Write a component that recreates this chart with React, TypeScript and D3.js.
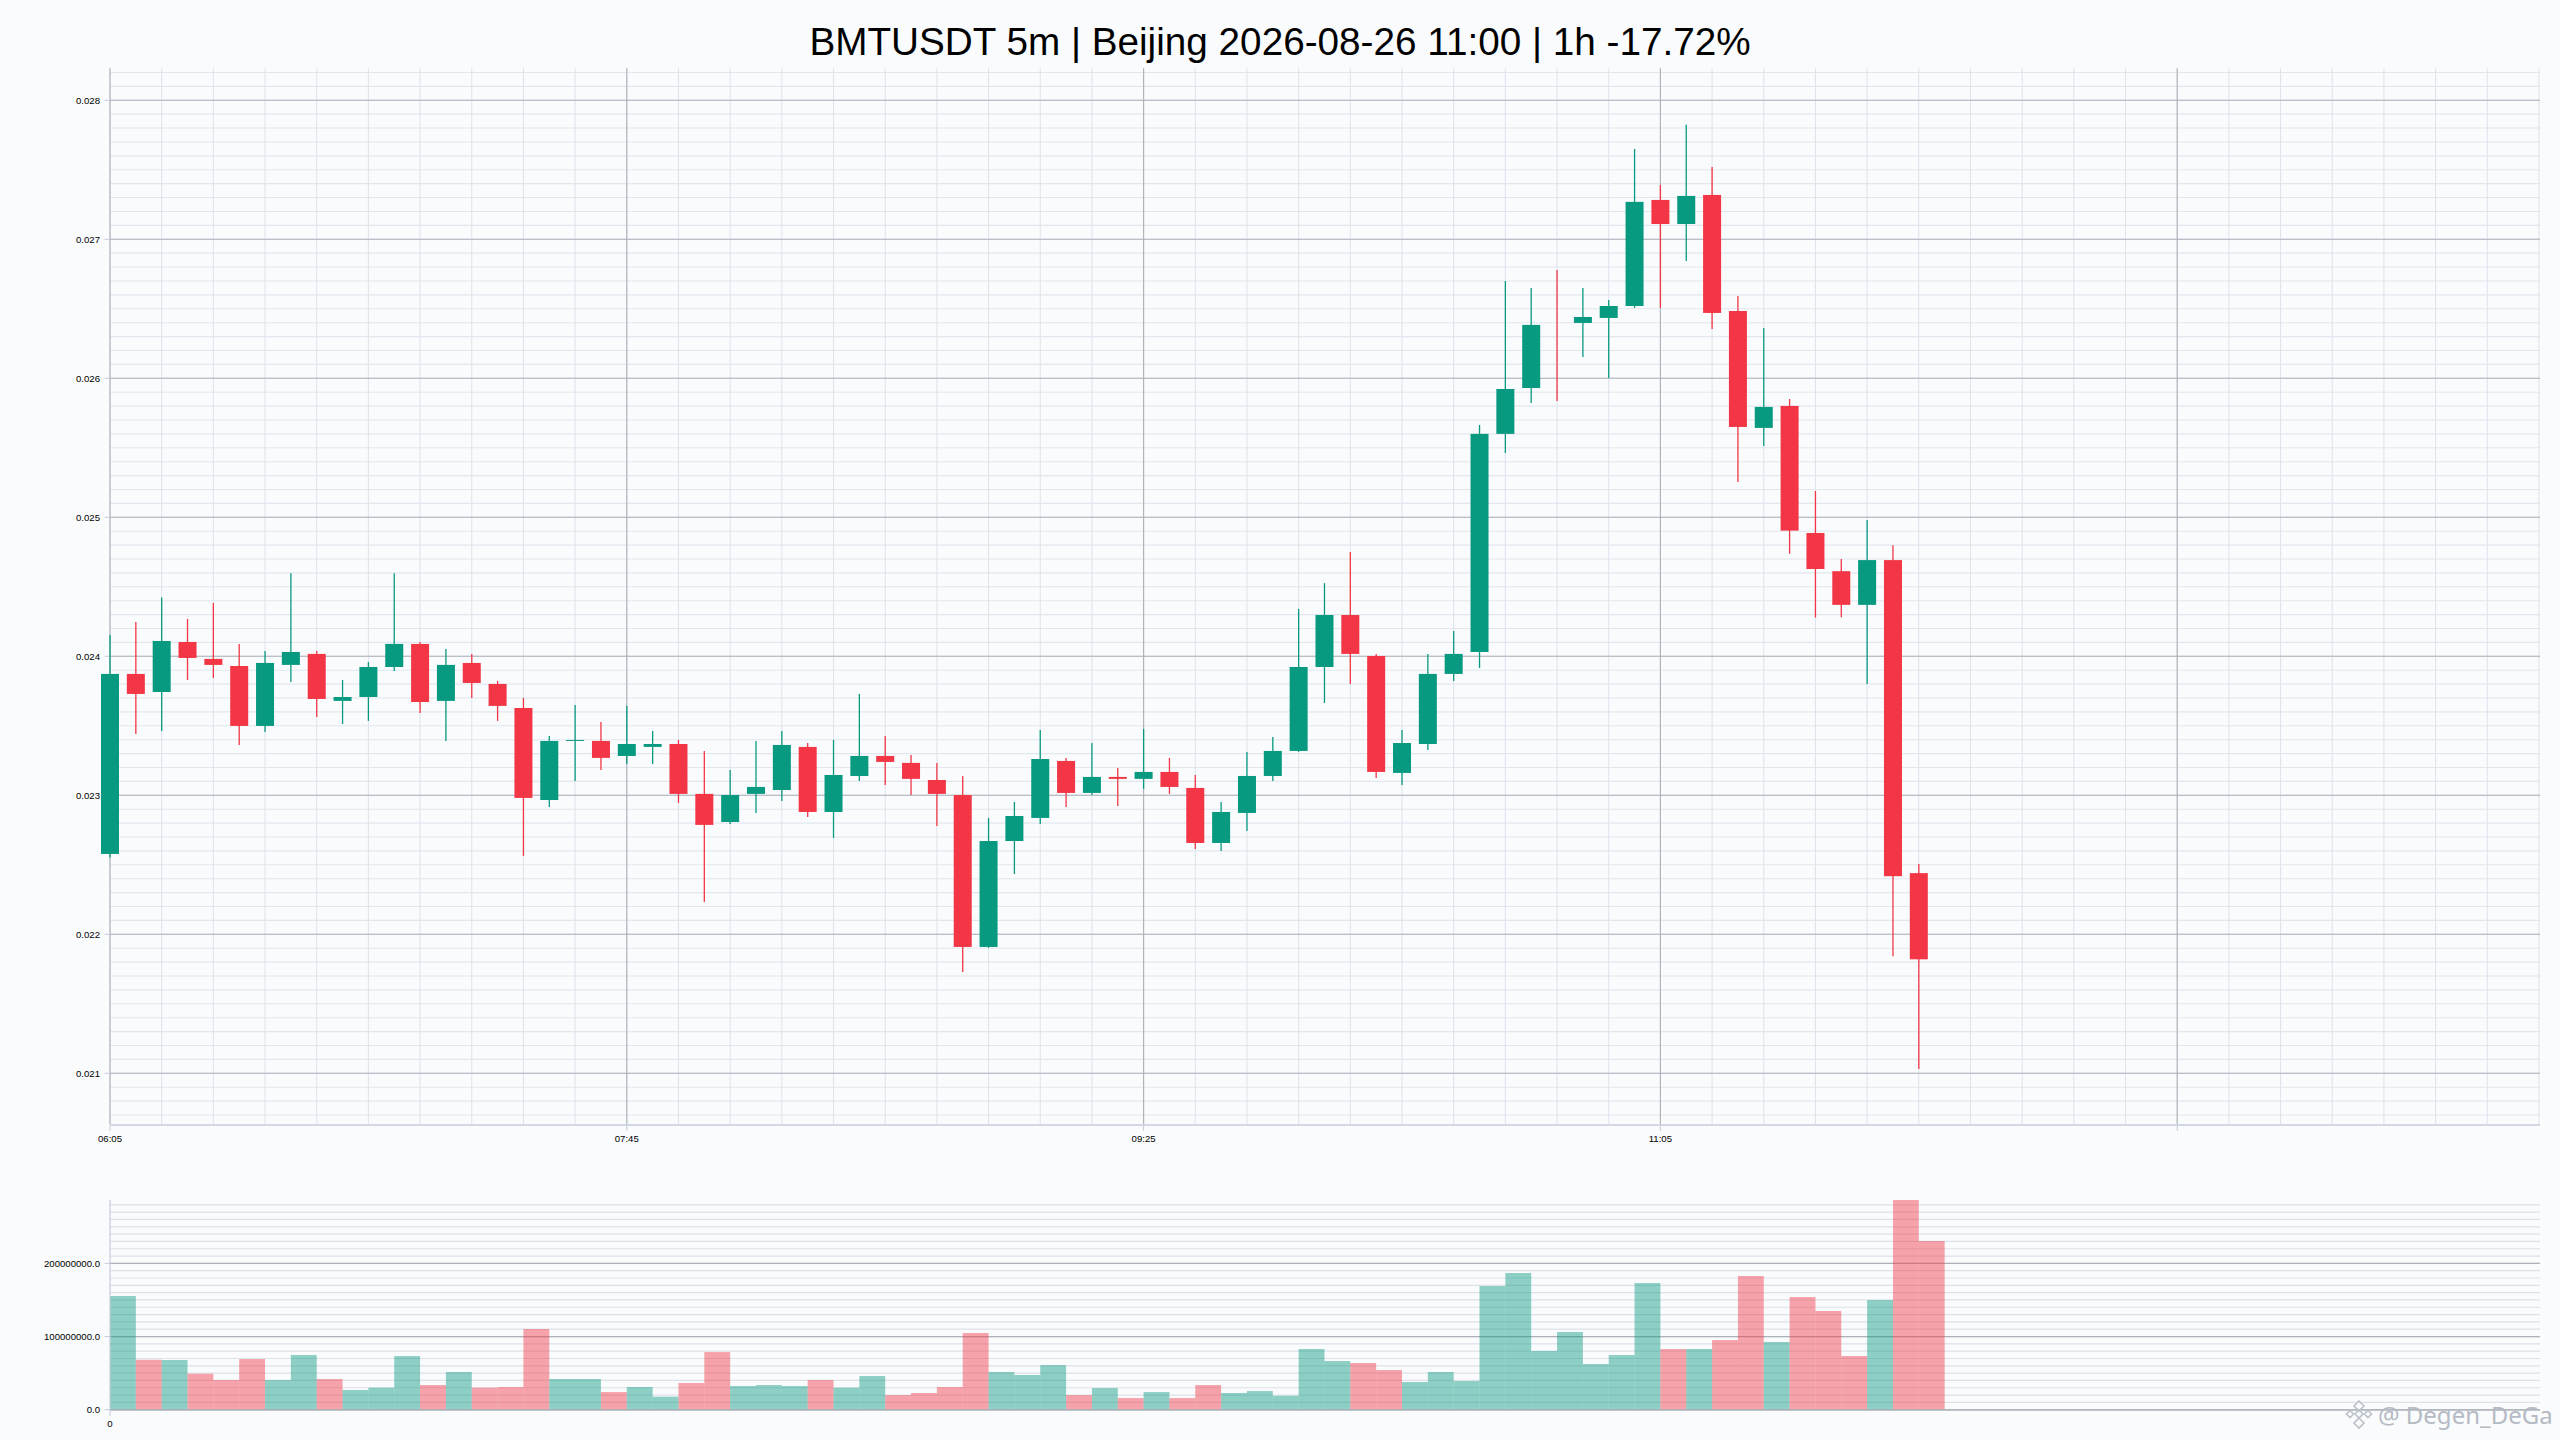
import React, { useEffect, useRef } from "react";
import * as d3 from "d3";

const titleText = "BMTUSDT 5m | Beijing 2026-08-26 11:00 | 1h -17.72%";
const watermarkText = "@ Degen_DeGa";

const opens = [
  0.022578, 0.023873, 0.023743, 0.024103, 0.023981, 0.02393, 0.023499, 0.023938, 0.024017, 0.023679, 0.023707, 0.023923,
  0.024089, 0.023679, 0.023952, 0.023801, 0.023628, 0.022966, 0.023391, 0.023391, 0.023283, 0.023348, 0.023369, 0.02301,
  0.022808, 0.02301, 0.023038, 0.023348, 0.02288, 0.023139, 0.023283, 0.023233, 0.02311, 0.023002, 0.021909, 0.022671,
  0.022837, 0.023247, 0.023017, 0.023132, 0.023118, 0.023168, 0.023053, 0.022657, 0.022873, 0.023139, 0.023319, 0.023923,
  0.024297, 0.024002, 0.023161, 0.023369, 0.023873, 0.024031, 0.0256, 0.02593, 0.0264, 0.026398, 0.026434, 0.02652,
  0.027283, 0.02711, 0.027319, 0.026484, 0.025643, 0.025801, 0.024887, 0.024612, 0.02437, 0.024692, 0.02244,
];
const highs = [
  0.024153, 0.024247, 0.024422, 0.024269, 0.024384, 0.024089, 0.024038, 0.024598, 0.024038, 0.02383, 0.023959, 0.024598,
  0.024103, 0.024053, 0.024017, 0.023823, 0.0237, 0.023427, 0.02365, 0.023528, 0.023643, 0.023463, 0.023398, 0.023319,
  0.023182, 0.023391, 0.023463, 0.023376, 0.023398, 0.023729, 0.023427, 0.02329, 0.023233, 0.023139, 0.022837, 0.022952,
  0.02347, 0.023269, 0.023376, 0.023197, 0.023477, 0.023269, 0.023146, 0.022952, 0.023312, 0.02342, 0.024341, 0.024526,
  0.02475, 0.024017, 0.02347, 0.024017, 0.024182, 0.025664, 0.0267, 0.02665, 0.026779, 0.02665, 0.026564, 0.02765,
  0.027391, 0.027823, 0.02752, 0.026592, 0.026362, 0.025851, 0.025189, 0.0247, 0.024981, 0.024799, 0.022506,
];
const lows = [
  0.022552, 0.023441, 0.023463, 0.02383, 0.023844, 0.023362, 0.023456, 0.023815, 0.023564, 0.023513, 0.023535, 0.023894,
  0.023592, 0.023391, 0.0237, 0.023535, 0.022564, 0.022916, 0.023103, 0.023182, 0.023225, 0.023225, 0.022945, 0.022233,
  0.022794, 0.022873, 0.022959, 0.022844, 0.022693, 0.023103, 0.023074, 0.023002, 0.022779, 0.021729, 0.021902, 0.022434,
  0.022794, 0.022916, 0.023002, 0.022923, 0.023046, 0.02301, 0.022614, 0.0226, 0.022743, 0.023103, 0.023312, 0.023664,
  0.023801, 0.023125, 0.023074, 0.023326, 0.023823, 0.023916, 0.025463, 0.025822, 0.025837, 0.026153, 0.026002, 0.026506,
  0.026506, 0.026844, 0.026355, 0.025254, 0.025513, 0.024738, 0.024279, 0.024281, 0.0238, 0.021842, 0.02103,
];
const closes = [
  0.023873, 0.023729, 0.02411, 0.023988, 0.023938, 0.023499, 0.023952, 0.024031, 0.023693, 0.023707, 0.023923, 0.024089,
  0.023671, 0.023938, 0.023808, 0.023643, 0.022981, 0.023391, 0.023398, 0.023269, 0.023369, 0.023369, 0.02301, 0.022787,
  0.023002, 0.02306, 0.023362, 0.02288, 0.023146, 0.023283, 0.02324, 0.023118, 0.02301, 0.021909, 0.022671, 0.022851,
  0.023261, 0.023017, 0.023132, 0.023118, 0.023168, 0.02306, 0.022657, 0.02288, 0.023139, 0.023319, 0.023923, 0.024297,
  0.024017, 0.023168, 0.023376, 0.023873, 0.024017, 0.0256, 0.025923, 0.026384, 0.0264, 0.026441, 0.02652, 0.027269,
  0.02711, 0.027312, 0.02647, 0.02565, 0.025794, 0.024904, 0.024628, 0.02437, 0.024692, 0.022418, 0.02182,
];
const volumes = [
  155400000, 68300000, 67900000, 49200000, 40500000, 69200000, 40500000, 74700000, 41900000, 26900000, 30100000, 73300000,
  33700000, 51500000, 30100000, 31000000, 110300000, 41900000, 41900000, 24100000, 31000000, 17800000, 36400000, 78800000,
  32300000, 33700000, 32300000, 40500000, 30100000, 46000000, 20000000, 22800000, 31000000, 104800000, 51500000, 47400000,
  61000000, 20000000, 29600000, 15900000, 24100000, 15900000, 33700000, 22800000, 25500000, 19100000, 82900000, 66500000,
  63800000, 54200000, 37800000, 51500000, 39200000, 169000000, 186800000, 80200000, 106200000, 62400000, 74700000, 173100000,
  82900000, 82900000, 95200000, 182700000, 92500000, 154000000, 134900000, 73300000, 149900000, 286600000, 230500000,
];

const priceTicks = [0.021, 0.022, 0.023, 0.024, 0.025, 0.026, 0.027, 0.028];
const volumeTicks = [0, 100000000, 200000000];
const timeTicks = [0, 20, 40, 60, 80];
const timeLabels = ["06:05", "07:45", "09:25", "11:05", ""];

const UP = "#089981";
const DOWN = "#F23645";
const BG = "#F9FBFD";
const GRID_MAJOR = "#ADB1B8";
const GRID_MINOR_H = "#E2E7EF";
const GRID_MINOR_V = "#DCE3EB";
const AXIS = "#C5CDDA";
const TICK_FONT = "'Liberation Sans', Arial, sans-serif";

export default function App() {
  const svgRef = useRef<SVGSVGElement | null>(null);

  useEffect(() => {
    if (!svgRef.current) return;
    const svg = d3.select(svgRef.current);
    svg.selectAll("*").remove();

    const left = 110;
    const right = 2540;
    const x = d3.scaleLinear().domain([0, 94.04]).range([left, right]);
    const y = d3.scaleLinear().domain([0.020628, 0.02823]).range([1125, 68.3]);
    const yVol = d3.scaleLinear().domain([0, 286600000]).range([1409.7, 1200]);

    svg.append("rect").attr("width", 2560).attr("height", 1440).attr("fill", BG);

    svg.append("text")
      .attr("x", 1280)
      .attr("y", 55)
      .attr("text-anchor", "middle")
      .attr("font-family", TICK_FONT)
      .attr("font-size", 38.7)
      .attr("fill", "#000")
      .text(titleText);

    // price panel grid
    const grid = svg.append("g");
    y.ticks(76).forEach((t) => {
      grid.append("line")
        .attr("x1", left).attr("x2", right)
        .attr("y1", y(t)).attr("y2", y(t))
        .attr("stroke", GRID_MINOR_H).attr("stroke-width", 1.1);
    });
    d3.range(0, 95, 2).forEach((i) => {
      grid.append("line")
        .attr("x1", x(i)).attr("x2", x(i))
        .attr("y1", 68.3).attr("y2", 1124)
        .attr("stroke", GRID_MINOR_V).attr("stroke-width", 1);
    });
    priceTicks.forEach((t) => {
      grid.append("line")
        .attr("x1", left).attr("x2", right)
        .attr("y1", y(t)).attr("y2", y(t))
        .attr("stroke", GRID_MAJOR).attr("stroke-width", 1.1);
    });
    timeTicks.forEach((i) => {
      grid.append("line")
        .attr("x1", x(i)).attr("x2", x(i))
        .attr("y1", 68.3).attr("y2", 1124)
        .attr("stroke", GRID_MAJOR).attr("stroke-width", 1.1);
    });

    // price axis
    const priceAxis = svg.append("g");
    priceAxis.append("line")
      .attr("x1", left).attr("x2", right).attr("y1", 1125).attr("y2", 1125)
      .attr("stroke", AXIS).attr("stroke-width", 1.3);
    priceTicks.forEach((t) => {
      priceAxis.append("line")
        .attr("x1", left - 5.5).attr("x2", left).attr("y1", y(t)).attr("y2", y(t))
        .attr("stroke", AXIS).attr("stroke-width", 1);
      priceAxis.append("text")
        .attr("x", left - 10).attr("y", y(t)).attr("dy", "0.35em")
        .attr("text-anchor", "end")
        .attr("font-family", TICK_FONT).attr("font-size", 9.6).attr("fill", "#000")
        .text(d3.format(".3f")(t));
    });
    timeTicks.forEach((i, idx) => {
      priceAxis.append("line")
        .attr("x1", x(i)).attr("x2", x(i)).attr("y1", 1125).attr("y2", 1131)
        .attr("stroke", AXIS).attr("stroke-width", 1);
      priceAxis.append("text")
        .attr("x", x(i)).attr("y", 1139).attr("dy", "0.35em")
        .attr("text-anchor", "middle")
        .attr("font-family", TICK_FONT).attr("font-size", 9.6).attr("fill", "#000")
        .text(timeLabels[idx]);
    });

    // candles
    const candles = svg.append("g");
    opens.forEach((open, i) => {
      const close = closes[i];
      const color = close > open ? UP : DOWN;
      candles.append("line")
        .attr("x1", x(i)).attr("x2", x(i))
        .attr("y1", y(highs[i])).attr("y2", y(lows[i]))
        .attr("stroke", color).attr("stroke-width", 1.3);
      const top = y(Math.max(open, close));
      const bottom = y(Math.min(open, close));
      candles.append("rect")
        .attr("x", x(i) - 9).attr("width", 18)
        .attr("y", top).attr("height", bottom - top)
        .attr("fill", color);
    });

    // volume panel grid
    const volGrid = svg.append("g");
    d3.range(0, 29).forEach((k) => {
      const v = k * 10000000;
      volGrid.append("line")
        .attr("x1", left).attr("x2", right)
        .attr("y1", yVol(v)).attr("y2", yVol(v))
        .attr("stroke", "#DEE1E7").attr("stroke-width", 1.2);
    });
    volumeTicks.forEach((v) => {
      volGrid.append("line")
        .attr("x1", left).attr("x2", right)
        .attr("y1", yVol(v)).attr("y2", yVol(v))
        .attr("stroke", GRID_MAJOR).attr("stroke-width", 1.2);
    });

    // volume bars run from each candle's time to the next one
    const bars = svg.append("g");
    volumes.forEach((v, i) => {
      bars.append("rect")
        .attr("x", x(i)).attr("width", x(i + 1) - x(i))
        .attr("y", yVol(v)).attr("height", yVol(0) - yVol(v))
        .attr("fill", closes[i] >= opens[i] ? UP : DOWN)
        .attr("fill-opacity", 0.45);
    });

    // volume axis
    const volAxis = svg.append("g");
    volAxis.append("line")
      .attr("x1", left).attr("x2", left).attr("y1", 1200).attr("y2", 1410)
      .attr("stroke", AXIS).attr("stroke-width", 1.2);
    volAxis.append("line")
      .attr("x1", left).attr("x2", right).attr("y1", 1410).attr("y2", 1410)
      .attr("stroke", "#B4B9C0").attr("stroke-width", 1.5);
    volAxis.append("line")
      .attr("x1", x(0)).attr("x2", x(0)).attr("y1", 1410).attr("y2", 1416)
      .attr("stroke", AXIS).attr("stroke-width", 1);
    volAxis.append("text")
      .attr("x", x(0)).attr("y", 1424).attr("dy", "0.35em")
      .attr("text-anchor", "middle")
      .attr("font-family", TICK_FONT).attr("font-size", 9.6).attr("fill", "#000")
      .text("0");
    volumeTicks.forEach((v) => {
      volAxis.append("line")
        .attr("x1", left - 5.5).attr("x2", left).attr("y1", yVol(v)).attr("y2", yVol(v))
        .attr("stroke", AXIS).attr("stroke-width", 1);
      volAxis.append("text")
        .attr("x", left - 10).attr("y", yVol(v)).attr("dy", "0.35em")
        .attr("text-anchor", "end")
        .attr("font-family", TICK_FONT).attr("font-size", 9.6).attr("fill", "#000")
        .text(d3.format(".1f")(v));
    });

    // watermark
    const mark = svg.append("g");
    [[2359, 1406, 5], [2350, 1414, 3.5], [2368, 1414, 3.5], [2359, 1414, 4], [2359, 1423, 5]].forEach(([cx, cy, r]) => {
      mark.append("path")
        .attr("d", `M${cx},${cy - r}L${cx + r},${cy}L${cx},${cy + r}L${cx - r},${cy}Z`)
        .attr("fill", "none")
        .attr("stroke", "#BCC1C9")
        .attr("stroke-width", 1.6);
    });
    mark.append("text")
      .attr("x", 2378)
      .attr("y", 1424)
      .attr("font-family", "'Noto Sans', sans-serif")
      .attr("font-size", 24)
      .attr("fill", "#B5BAC3")
      .text(watermarkText);
  }, []);

  return (
    <svg
      ref={svgRef}
      width={2560}
      height={1440}
      style={{ position: "absolute", left: 0, top: 0, display: "block" }}
    />
  );
}
